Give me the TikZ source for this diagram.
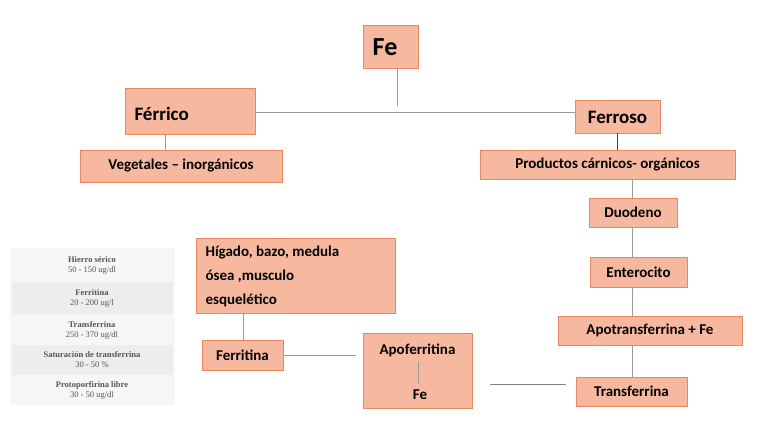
\documentclass[tikz,border=0pt]{standalone}
\usepackage{fontspec}
\setmainfont{Carlito}
\newfontfamily\tabfont{Liberation Serif}
\begin{document}
\begin{tikzpicture}[x=1pt,y=-1pt,
  bx/.style={draw=boxedge,fill=boxfill,line width=0.8pt,inner sep=0pt},
  lbl/.style={font=\bfseries\fontsize{15}{18}\selectfont,text=black},
  ln/.style={draw=lngray,line width=0.9pt},
  tt/.style={font=\tabfont\fontsize{8.5}{10}\selectfont,text=tabtext,align=center}]
\definecolor{boxfill}{HTML}{F7B8A0}
\definecolor{boxedge}{HTML}{E9875F}
\definecolor{lngray}{HTML}{9A9A9A}
\definecolor{tabtext}{HTML}{555555}
\definecolor{stripe}{HTML}{EDEDED}
\useasboundingbox (0,0) rectangle (768,433);
% boxes
\draw[bx] (363,25) rectangle (418,68);
\node[lbl,font=\bfseries\fontsize{26}{30}\selectfont] (fe) at (385,47) {Fe};
\draw[bx] (125,88) rectangle (255,134);
\node[lbl,font=\bfseries\fontsize{19}{22}\selectfont,anchor=west] (ferrico) at (131,114) {Férrico};
\draw[bx] (575,100) rectangle (660,133);
\node[lbl,font=\bfseries\fontsize{19}{22}\selectfont] (ferroso) at (617.5,117) {Ferroso};
\draw[bx] (80,150) rectangle (282,182);
\node[lbl] (veg) at (181,166) {Vegetales – inorgánicos};
\draw[bx] (480,150) rectangle (735,179);
\node[lbl] (prod) at (607.5,164.5) {Productos cárnicos- orgánicos};
\draw[bx] (589,198) rectangle (677,227);
\node[lbl] (duo) at (633,212.5) {Duodeno};
\draw[bx] (590,257) rectangle (687,287);
\node[lbl] (ent) at (638.5,272) {Enterocito};
\draw[bx] (558,316) rectangle (742,345);
\node[lbl] (apot) at (650,330.5) {Apotransferrina + Fe};
\draw[bx] (576,377) rectangle (687,406);
\node[lbl] (transf) at (631.5,391.5) {Transferrina};
\draw[bx] (196,238) rectangle (395,313);
\node[lbl,anchor=north west,align=left,font=\bfseries\fontsize{15}{24}\selectfont] (hig) at (202,242) {Hígado, bazo, medula\\ósea ,musculo\\esquelético};
\draw[bx] (202,340) rectangle (283,370);
\node[lbl] (ferr) at (242.5,355) {Ferritina};
\draw[bx] (363,333) rectangle (472,408);
\node[lbl] (apof) at (417.5,350) {Apoferritina};
\node[lbl] (fe2) at (420,395) {Fe};
% connectors
\coordinate (j) at (397,112);
\draw[ln] (fe.south -| j) ++(0,10) -- (397,106);
\draw[ln] (255,112) -- (575,112);
\draw[ln] (165,134) -- (165,150);
\draw[ln,draw=darkgray] (617,133) -- (617,150);
\draw[ln] (632,179) -- (632,198);
\draw[ln] (632,227) -- (632,257);
\draw[ln] (632,287) -- (632,316);
\draw[ln] (632,345) -- (632,377);
\draw[ln] (243,313) -- (243,340);
\draw[ln] (283,355) -- (356,355);
\draw[ln] (418,362) -- (418,384);
\draw[ln,draw=gray] (490,384) -- (566,384);
% table
\fill[stripe!50] (10,248) rectangle (175,405);
\fill[stripe] (12,282) rectangle (173,314);
\fill[stripe] (12,345) rectangle (173,375);
\node[tt] (t1) at (92,265) {\textbf{Hierro sérico}\\50 - 150 ug/dl};
\node[tt] (t2) at (92,298) {\textbf{Ferritina}\\20 - 200 ug/l};
\node[tt] (t3) at (92,330) {\textbf{Transferrina}\\250 - 370 ug/dl};
\node[tt] (t4) at (92,360) {\textbf{Saturación de transferrina}\\30 - 50 \%};
\node[tt] (t5) at (92,390) {\textbf{Protoporfirina libre}\\30 - 50 ug/dl};
\end{tikzpicture}
\end{document}
